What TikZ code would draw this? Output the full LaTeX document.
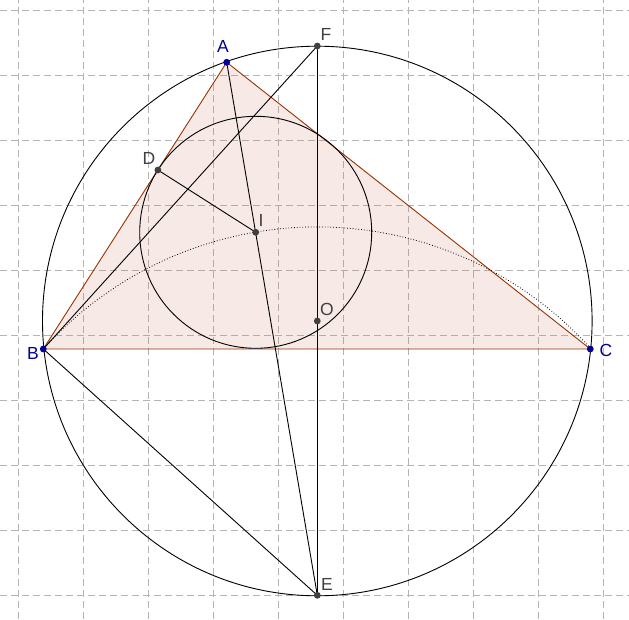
\documentclass[tikz,border=0pt]{standalone}
\usepackage{fontspec}
\setmainfont{Liberation Sans}
\definecolor{gridc}{RGB}{180,180,180}
\definecolor{triedge}{RGB}{153,51,0}
\definecolor{trifill}{RGB}{200,110,90}
\definecolor{ptblue}{RGB}{0,0,150}
\definecolor{ptgray}{RGB}{64,64,64}
\begin{document}
\begin{tikzpicture}[x=1pt,y=1pt,
  gridline/.style={gridc,line width=0.6pt,dash pattern=on 7pt off 4pt},
  geo/.style={black,line width=0.9pt},
  lblblue/.style={text=ptblue,font=\fontsize{17.5}{19}\selectfont,inner sep=0pt},
  lblgray/.style={text=ptgray,font=\fontsize{17.5}{19}\selectfont,inner sep=0pt}]
\useasboundingbox (0,0) rectangle (629,619);
\fill[white] (0,0) rectangle (629,619);
% grid
\foreach \x in {18,83,...,603} \draw[gridline] (\x,0) -- (\x,619);
\foreach \y in {24,89,...,609} \draw[gridline] (0,\y) -- (629,\y);
% points
\coordinate (A) at (226.7,556.7);
\coordinate (B) at (43.3,270);
\coordinate (C) at (590.3,270);
\coordinate (F) at (317.3,573);
\coordinate (E) at (317.3,23.7);
\coordinate (O) at (317.3,298);
\coordinate (I) at (255.7,386.7);
\coordinate (D) at (157.9,449);
% triangle
\fill[trifill,fill opacity=0.15] (A) -- (B) -- (C) -- cycle;
\draw[triedge,line width=0.9pt] (A) -- (B) -- (C) -- cycle;
% circles
\draw[geo] (O) circle[radius=274.8];
\draw[geo] (I) circle[radius=116];
% dotted arc centred at E through B, I, C
\draw[black,line width=0.8pt,dotted] (B) arc[start angle=138.04,end angle=42.05,radius=368.4];
% lines
\draw[geo] (A) -- (E);
\draw[geo] (B) -- (F);
\draw[geo] (F) -- (E);
\draw[geo] (B) -- (E);
\draw[geo] (D) -- (I);
% dots
\foreach \p in {A,B,C} \fill[ptblue] (\p) circle[radius=3.4];
\foreach \p in {D,E,F,I,O} {\fill[ptgray] (\p) circle[radius=3.4];}
% labels
\node[lblblue] (lA) at (223,572.5) {A};
\node[lblblue] (lB) at (33,266) {B};
\node[lblblue] (lC) at (606,269) {C};
\node[lblgray] (lD) at (149,461) {D};
\node[lblgray] (lF) at (326,585) {F};
\node[lblgray] (lI) at (261,399) {I};
\node[lblgray] (lO) at (327,310) {O};
\node[lblgray] (lE) at (327,35) {E};
\end{tikzpicture}
\end{document}
